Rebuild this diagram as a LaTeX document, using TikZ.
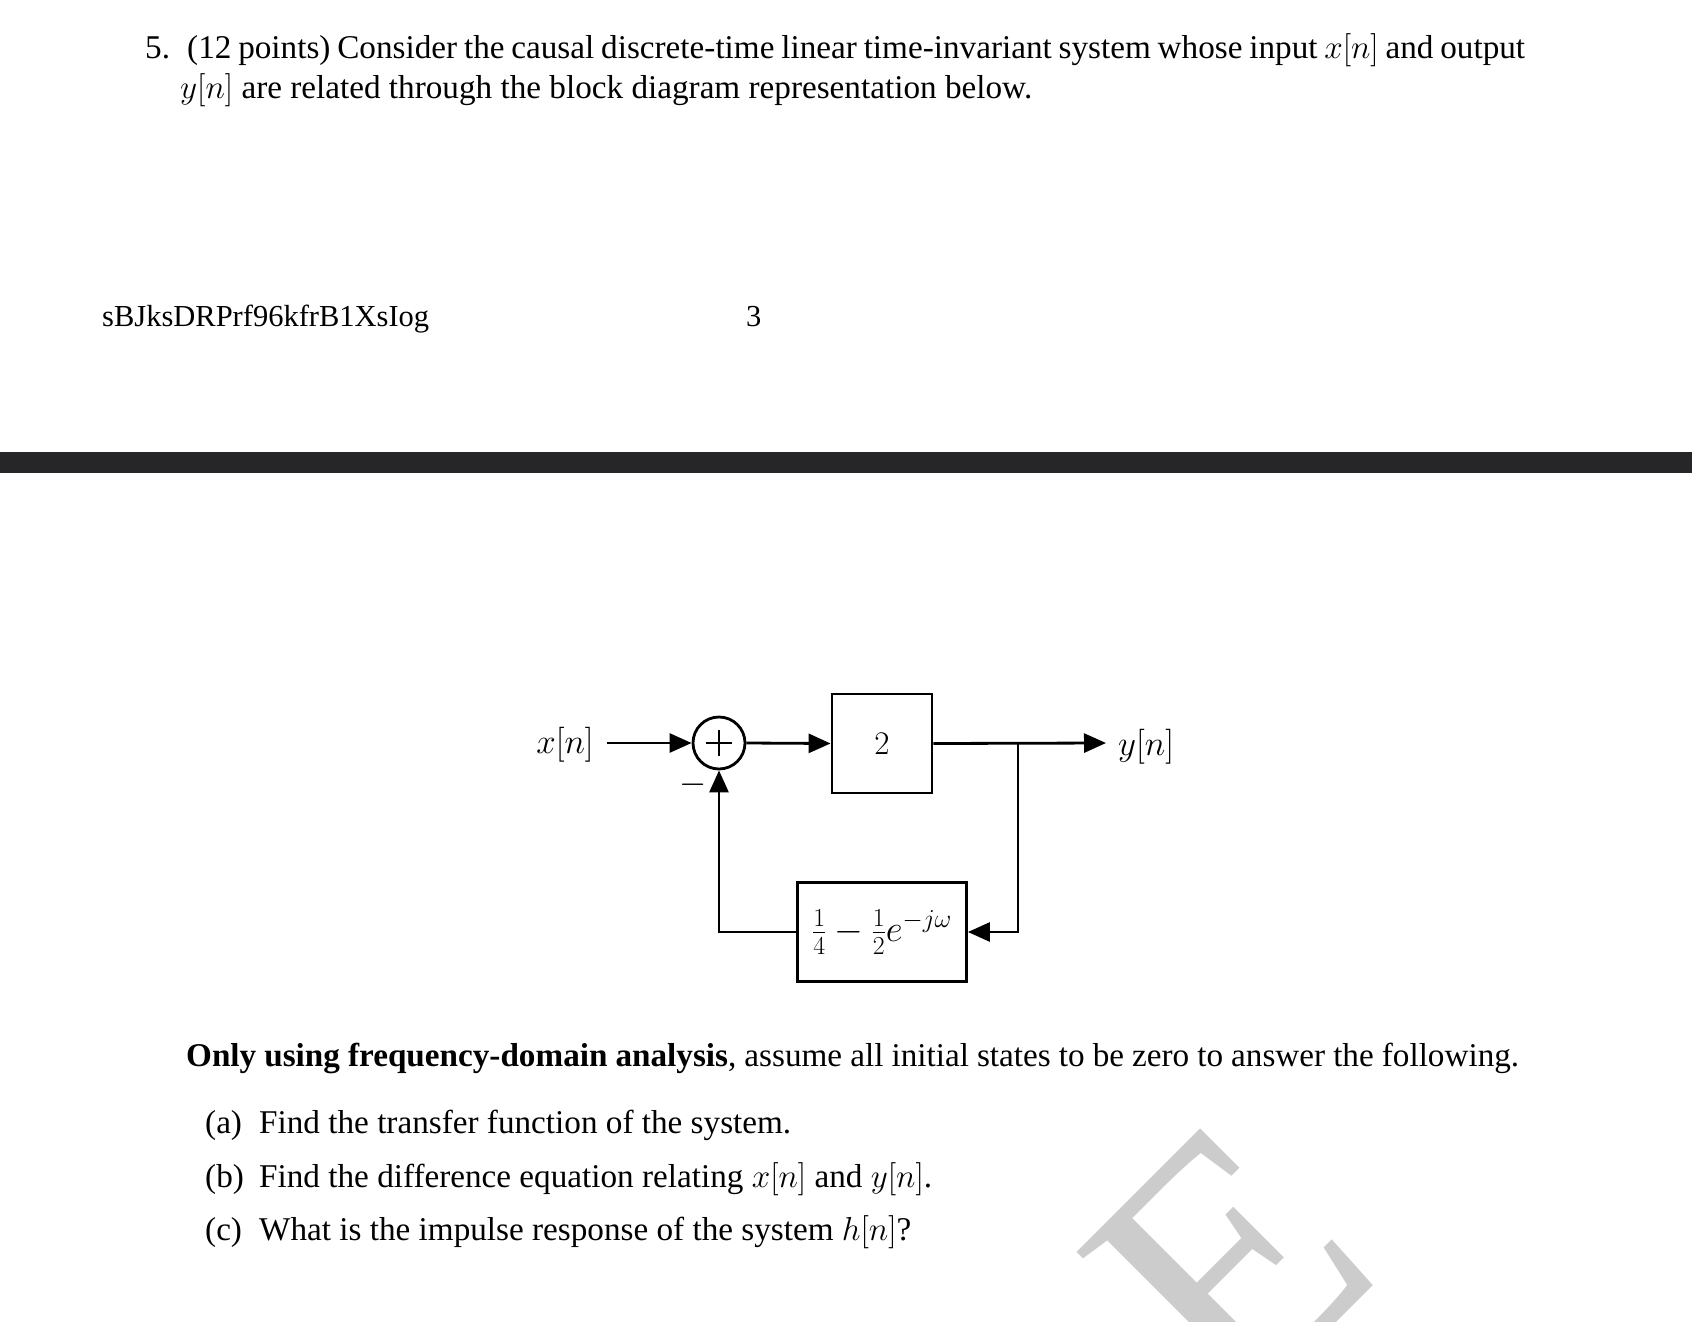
\RequirePackage{fix-cm}
\documentclass[tikz,border=0pt]{standalone}
\usepackage[no-math]{fontspec}
\setmainfont{Liberation Serif}
\usetikzlibrary{arrows.meta}
\definecolor{barcol}{HTML}{262628}
\definecolor{wmark}{HTML}{CCCCCC}
\newcommand\bodysize{\fontsize{33.2}{40}\selectfont}
\newcommand\labsize{\fontsize{35}{42}\selectfont}
\newcommand\gainsize{\fontsize{33}{40}\selectfont}
\newcommand\fbsize{\fontsize{37}{44}\selectfont}
\begin{document}
\begin{tikzpicture}[x=1pt,y=-1pt,
  txt/.style={anchor=base west,inner sep=0pt,font=\bodysize},
  dtxt/.style={inner sep=0pt,font=\labsize},
  blk/.style={draw,line width=2.8pt,inner sep=0pt},
  sumnode/.style={draw,circle,line width=2.8pt,minimum size=52pt,inner sep=0pt},
  wire/.style={line width=2.8pt},
  arr/.style={wire,-{Triangle[length=22pt,width=19pt]}}]
\useasboundingbox (0,0) rectangle (1692,1322);
\clip (0,0) rectangle (1692,1322);
% watermark
\node[anchor=base west,inner sep=0pt,rotate=45,text=wmark,font=\fontsize{356}{356}\selectfont] (wm) at (1234,1425) {E};
% header text
\node[txt] (num) at (145,58.5) {5.};
\node[txt] (l1) at (187,58.5) {\makebox[1338pt][s]{(12 points) Consider the causal discrete-time linear time-invariant system whose input $x[n]$ and output}};
\node[txt] (l2) at (180,98.5) {$y[n]$ are related through the block diagram representation below.};
\node[txt,font=\fontsize{30.5}{36}\selectfont] (code) at (102,326) {sBJksDRPrf96kfrB1XsIog};
\node[txt,font=\fontsize{30.5}{36}\selectfont] (page) at (746,326) {3};
\fill[barcol] (0,452) rectangle (1692,473);
% diagram
\node[dtxt] (xin) at (565,745) {$x[n]$};
\node[sumnode] (sum) at (719,743) {};
\draw[wire] ([xshift=-13pt]sum.center) -- ([xshift=13pt]sum.center);
\draw[wire] ([yshift=-13pt]sum.center) -- ([yshift=13pt]sum.center);
\node[blk,font=\gainsize,minimum width=100pt,minimum height=99pt] (g) at (882,743.5) {$2$};
\node[blk,font=\fbsize,minimum width=169pt,minimum height=99pt] (fb) at (882,932) {$\frac{1}{4}-\frac{1}{2}e^{-j\omega}$};
\node[dtxt,anchor=base west] (yout) at (1118,755) {$y[n]$};
\node[dtxt] (minus) at (693,785) {$-$};
\coordinate (xinout) at (607,743);
\coordinate (br) at (1018,743);
\coordinate (ytip) at (1106,743);
\draw[arr] (xinout) -- (sum.west);
\draw[arr] (sum.east) -- (g.west);
\draw[arr] (g.east) -- (ytip);
\draw[arr] (br) |- (fb.east);
\draw[arr] (fb.west) -| (sum.south);
% questions
\node[txt] (only) at (186,1066) {\makebox[1333pt][s]{\textbf{Only using frequency-domain analysis}, assume all initial states to be zero to answer the following.}};
\node[txt] (qa) at (205,1133) {(a)};
\node[txt] (qat) at (259,1133) {Find the transfer function of the system.};
\node[txt] (qb) at (205,1187) {(b)};
\node[txt] (qbt) at (259,1187) {Find the difference equation relating $x[n]$ and $y[n]$.};
\node[txt] (qc) at (205,1240) {(c)};
\node[txt] (qct) at (259,1240) {What is the impulse response of the system $h[n]$?};
\end{tikzpicture}
\end{document}
